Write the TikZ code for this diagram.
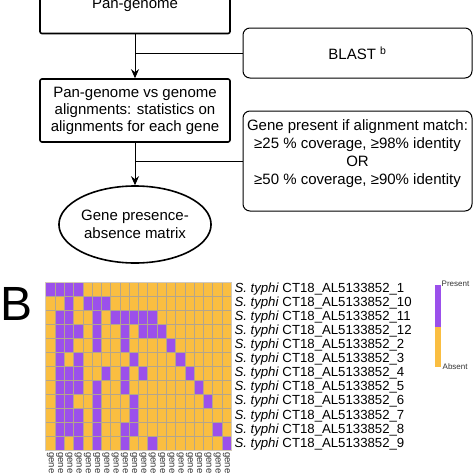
\documentclass[tikz,border=0pt]{standalone}
\usepackage{fontspec}
\setmainfont{Liberation Sans}
\usetikzlibrary{shapes.geometric,arrows.meta}
\definecolor{presentc}{RGB}{155,80,235}
\definecolor{absentc}{RGB}{250,190,65}
\definecolor{gridc}{RGB}{180,165,140}

\begin{document}
\begin{tikzpicture}[x=1pt, y=-1pt,
        box/.style={rectangle, draw, rounded corners=2pt, line width=1.6pt, minimum width=190pt, align=center, inner sep=0pt, font=\fontsize{15}{17}\selectfont},
        note/.style={rectangle, draw, rounded corners=7pt, line width=1pt, minimum width=229pt, align=center, inner sep=0pt, font=\fontsize{15}{18}\selectfont},
        result/.style={ellipse, draw, line width=1.6pt, minimum width=152pt, minimum height=77pt, align=center, inner sep=0pt, font=\fontsize{15}{18}\selectfont},
        arrow/.style={-{Stealth[length=9pt, width=8pt]}, line width=1pt},
        link/.style={line width=1pt},
        gridline/.style={gridc, line width=0.5pt},
        rowlabel/.style={anchor=west, inner sep=0pt, font=\fontsize{13.2}{14}\selectfont},
        collabel/.style={anchor=west, rotate=-90, inner sep=0.5pt, text=black!80, font=\fontsize{9.5}{9.5}\selectfont},
        legendlabel/.style={anchor=west, inner sep=0pt, text=black!80, font=\fontsize{8}{8}\selectfont}
    ]
        \useasboundingbox (0,0) rectangle (474,474);
        \clip (0,0) rectangle (474,474);

        % flowchart
        \node[box, minimum height=58pt] (pangenome) at (135,4.5) {Pan-genome};
        \node[box, minimum height=63pt] (align) at (135,110.5) {Pan-genome vs genome\\alignments: statistics on\\alignments for each gene};
        \node[result] (matrix) at (135,224.5) {Gene presence-\\absence matrix};

        \node[note, minimum height=50pt] (blast) at (357.5,53) {BLAST \textsuperscript{b}};
        \node[note, minimum height=100pt] (criteria) at (357.5,161) {Gene present if alignment match:\\≥25 \% coverage, ≥98\% identity\\OR\\≥50 \% coverage, ≥90\% identity\rule[-17pt]{0pt}{1pt}};

        \draw[arrow] (pangenome) -- (align);
        \draw[arrow] (align) -- (matrix);
        \draw[link] (blast) -- (blast -| pangenome);
        \draw[link] (criteria) -- (criteria -| align);

        % heatmap
        \node[anchor=base west, inner sep=0pt, font=\fontsize{48}{48}\selectfont] (panelb) at (0,320) {B};

        \fill[absentc] (45.7,282.3) rectangle (231.1,450.7);
        \foreach \cols [count=\r] in {{1,2,3,4},{3,5,6,7},{2,3,6,8,9,10,11,12},{2,3,4,6,9,11,12,13},
                {2,3,6,9,14},{2,4,10,15},{2,3,4,7,9,11,16},{2,3,4,6,9,17},
                {2,3,6,10,18},{2,3,4,6,10},{2,3,4,6,9,10,19},{2,4,6,9,12,20}}
            \foreach \c in \cols
                \fill[presentc] ({45.7+9.27*(\c-1)},{282.3+14.03*(\r-1)}) rectangle +(9.27,14.03);
        \foreach \c in {1,...,19}
            \draw[gridline] ({45.7+9.27*\c},282.3) -- +(0,168.4);
        \foreach \r in {1,...,11}
            \draw[gridline] (45.7,{282.3+14.03*\r}) -- +(185.4,0);
        \draw[gridline, draw=gridc!60] (45.7,282.3) rectangle (231.1,450.7);

        \foreach \lab [count=\r] in {1,10,11,12,2,3,4,5,6,7,8,9}
            \node[rowlabel] (row\r) at (234.3,{282.3+14.03*(\r-0.5)}) {\textit{S. typhi} CT18\_AL5133852\_\lab};
        \foreach \c in {1,...,20}
            \node[collabel] (col\c) at ({45.7+9.27*(\c-0.5)},451.5) {gene};

        % legend
        \fill[presentc] (435,285) rectangle (441,327);
        \fill[absentc] (435,327) rectangle (441,367);
        \node[legendlabel] (present) at (441.5,284) {Present};
        \node[legendlabel] (absent) at (442.5,367) {Absent};
    \end{tikzpicture}
\end{document}
